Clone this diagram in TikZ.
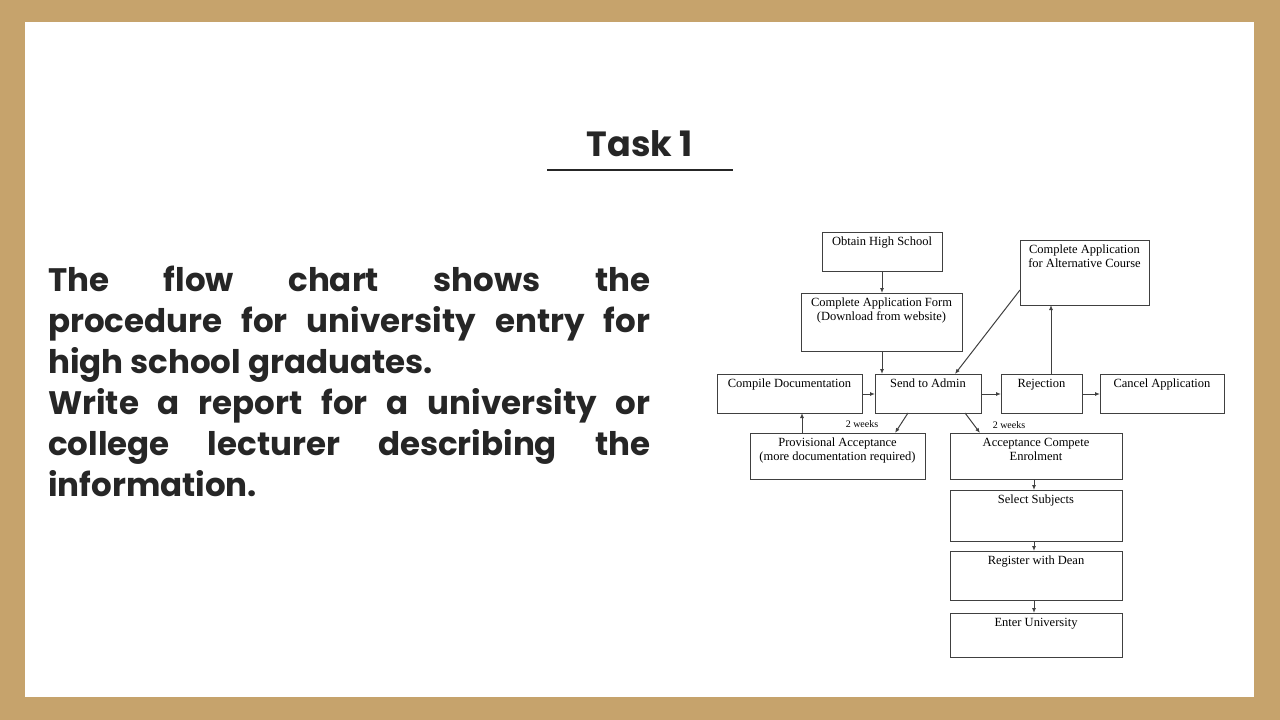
\documentclass[tikz,border=0pt]{standalone}
\usepackage{fontspec}
\setmainfont{Liberation Serif}
\newfontfamily\body{Poppins}
\usetikzlibrary{arrows.meta}
\definecolor{tan}{HTML}{C6A36C}
\begin{document}
\begin{tikzpicture}[x=1pt,y=-1pt,
  box/.style={draw=black!75,line width=1pt},
  lbl/.style={font=\fontsize{12.5}{14}\selectfont,align=center,inner sep=0pt,anchor=north},
  arr/.style={draw=black!75,line width=1pt,-{Latex[length=5pt,width=4pt]}}]
\fill[tan] (0,0) rectangle (1280,720);
\fill[white] (25,22) rectangle (1254,697);
\useasboundingbox (0,0) rectangle (1280,720);
\node[font=\body\bfseries\fontsize{35}{40}\selectfont,text=black!85] (title) at (640,144) {Task 1};
\draw[line width=2.5pt,black!85] (547,170) -- (733,170);
\node[font=\body\bfseries\fontsize{32.5}{41}\selectfont,text=black!85,text width=602pt,align=justify,inner sep=0pt,anchor=north west] (txt) at (48,266)
{The flow chart shows the\linebreak procedure for university entry for\linebreak high school graduates.\\
Write a report for a university or\linebreak college lecturer describing the\linebreak information.};
% boxes
\newcommand\bx[6]{\draw[box] (#2,#3) rectangle (#4,#5); \coordinate (#1) at ({(#2+#4)/2},#3);
 \node[lbl] (#1t) at ({(#2+#4)/2},{#3+5}) {#6};}
\bx{obt}{822}{232}{942}{271}{Obtain High School}
\bx{form}{801}{293}{962}{351}{Complete Application Form\\(Download from website)}
\bx{comp}{717}{374}{862}{413}{Compile Documentation}
\bx{send}{875}{374}{981}{413}{Send to Admin}
\bx{rej}{1001}{374}{1082}{413}{Rejection}
\bx{canc}{1100}{374}{1224}{413}{Cancel Application}
\bx{alt}{1020}{240}{1149}{305}{Complete Application\\for Alternative Course}
\bx{prov}{750}{433}{925}{479}{Provisional Acceptance\\(more documentation required)}
\bx{acc}{950}{433}{1122}{479}{Acceptance Compete\\Enrolment}
\bx{sel}{950}{490}{1122}{541}{Select Subjects}
\bx{reg}{950}{551}{1122}{600}{Register with Dean}
\bx{ent}{950}{613}{1122}{657}{Enter University}
% arrows
\draw[arr] (882,271) -- (882,293);
\draw[arr] (882,351) -- (882,374);
\draw[arr] (862,394) -- (875,394);
\draw[arr] (981,394) -- (1001,394);
\draw[arr] (1082,394) -- (1100,394);
\draw[arr] (1051,374) -- (1051,305);
\draw[arr] (1020,290) -- (955,374);
\draw[arr] (908,413) -- (895,433);
\draw[arr] (965,413) -- (980,433);
\draw[arr] (802,433) -- (802,413);
\draw[arr] (1034,479) -- (1034,490);
\draw[arr] (1034,541) -- (1034,551);
\draw[arr] (1034,600) -- (1034,613);
\node[font=\fontsize{10}{11}\selectfont] (w1) at (862,424) {2 weeks};
\node[font=\fontsize{10}{11}\selectfont] (w2) at (1009,425) {2 weeks};
\end{tikzpicture}
\end{document}
